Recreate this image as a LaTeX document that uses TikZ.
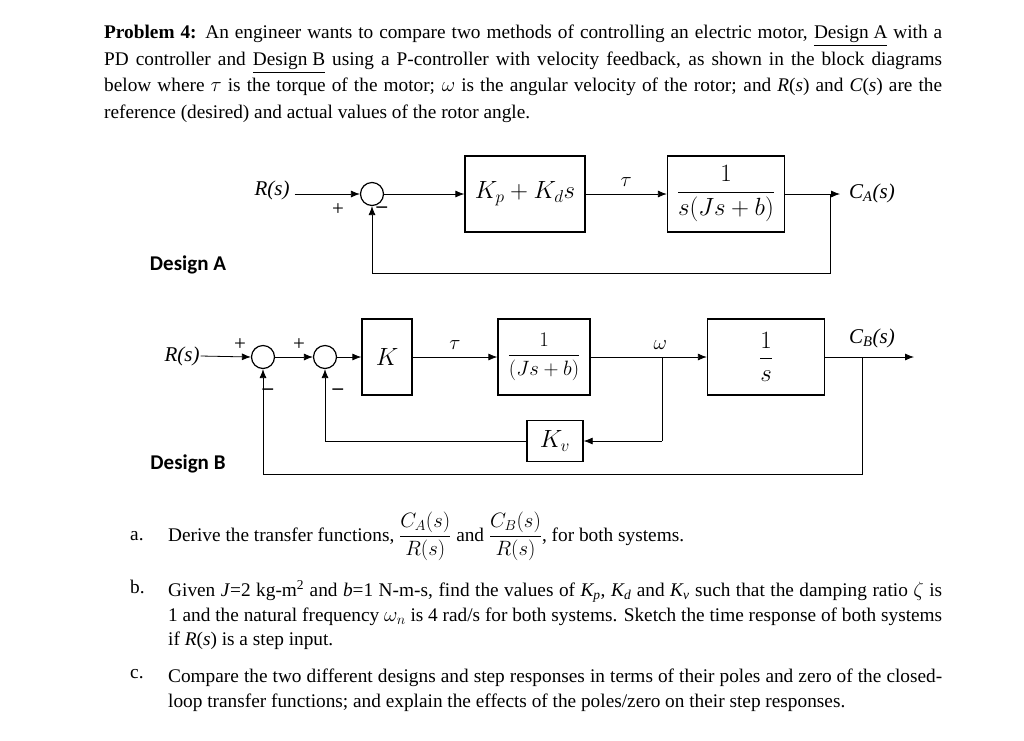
\documentclass[tikz,border=0pt]{standalone}
\usepackage{amsmath}
\usepackage{fontspec}
\setmainfont{Liberation Serif}
\newfontfamily\dsans{Carlito}
\usetikzlibrary{arrows.meta}
\begin{document}
\begin{tikzpicture}[x=1pt,y=-1pt,
  blk/.style={draw,line width=1.3pt,minimum width=#1,minimum height=76pt,inner sep=0pt,font=\fontsize{23}{25}\selectfont},
  sum/.style={draw,circle,line width=1.2pt,minimum size=23pt,inner sep=0pt},
  sig/.style={line width=0.8pt,-{Latex[length=9pt,width=7pt]}},
  ln/.style={line width=0.8pt},
  lab/.style={font=\fontsize{21}{23}\selectfont,inner sep=1pt},
  des/.style={font=\dsans\bfseries\fontsize{21}{23}\selectfont},
  txt/.style={font=\fontsize{19.3}{26.5}\selectfont,inner sep=0pt,anchor=north west}]
\useasboundingbox (0,0) rectangle (1024,740);
\node[txt,text width=838pt,align=justify] (p) at (104,25) {\textbf{Problem 4:} An engineer wants to compare two methods of controlling an electric motor, \underline{Design A} with a\linebreak PD controller and \underline{Design B} using a P-controller with velocity feedback, as shown in the block diagrams below where \(\tau\) is the torque of the motor; \(\omega\) is the angular velocity of the rotor; and \textit{R}(\textit{s}) and \textit{C}(\textit{s}) are the\linebreak reference (desired) and actual values of the rotor angle.};
% Design A
\node[lab] (ra) at (272,190) {\textit{R(s)}};
\node[sum] (sa) at (372,194) {};
\node[blk=120pt] (ba) at (525,194) {$K_p + K_d s$};
\node[blk=117pt] (ga) at (726,194) {$\dfrac{1}{s(Js+b)}$};
\coordinate (oa) at (840,194);
\node[lab,anchor=west] (ca) at (848,193) {\textit{C\textsubscript{A}(s)}};
\coordinate (fa1) at (830,194);
\coordinate (fa2) at (830,273);
\coordinate (fa3) at (372,273);
\draw[sig] (ra.east |- sa.west) ++(4,0) -- (sa.west);
\draw[sig] (sa.east) -- (ba.west);
\draw[sig] (ba.east) -- node[lab,above=6pt]{$\tau$} (ga.west);
\draw[sig] (ga.east) -- (oa);
\draw[ln] (fa1) -- (fa2) -- (fa3);
\draw[sig] (fa3) -- (sa.south);
\node[lab] (pa) at (338,210) {+};
\node[lab] (ma) at (382,210) {\textbf{--}};
\node[des] (da) at (188,265) {Design A};
% Design B
\node[lab] (rb) at (182,356) {\textit{R(s)}};
\node[sum] (s1) at (263,357) {};
\node[sum] (s2) at (325,357) {};
\node[blk=50pt] (bk) at (387,357) {$K$};
\node[blk=92pt,font=\fontsize{20}{22}\selectfont] (bg) at (544,357) {$\dfrac{1}{(Js+b)}$};
\node[blk=117pt] (bi) at (766,357) {$\dfrac{1}{s}$};
\coordinate (ob) at (914,357);
\node[lab] (cb) at (872,338) {\textit{C\textsubscript{B}(s)}};
\node[draw,line width=1.3pt,minimum width=56pt,minimum height=41pt,inner sep=0pt,font=\fontsize{23}{25}\selectfont] (kv) at (555,441) {$K_v$};
\coordinate (w1) at (662,357);
\coordinate (w2) at (662,441);
\coordinate (v1) at (325,441);
\coordinate (o1) at (862,357);
\coordinate (o2) at (862,474);
\coordinate (o3) at (263,474);
\draw[sig] (rb.east) -- (s1.west);
\draw[sig] (s1.east) -- (s2.west);
\draw[sig] (s2.east) -- (bk.west);
\draw[sig] (bk.east) -- node[lab,above=6pt]{$\tau$} (bg.west);
\draw[sig] (bg.east) -- node[lab,above=6pt,pos=0.6]{$\omega$} (bi.west);
\draw[sig] (bi.east) -- (ob);
\draw[ln] (w1) -- (w2);
\draw[sig] (w2) -- (kv.east);
\draw[ln] (kv.west) -- (v1);
\draw[sig] (v1) -- (s2.south);
\draw[ln] (o1) -- (o2) -- (o3);
\draw[sig] (o3) -- (s1.south);
\node[lab] (p1) at (240,345) {+};
\node[lab] (p2) at (299,345) {+};
\node[lab] (m1) at (268,392) {\textbf{--}};
\node[lab] (m2) at (338,392) {\textbf{--}};
\node[des] (db) at (188,464) {Design B};
% questions
\node[txt,anchor=west] (qa) at (130,536) {a.};
\node[txt,anchor=west] (qat) at (168,536) {Derive the transfer functions, \(\dfrac{C_{A}(s)}{R(s)}\) and \(\dfrac{C_{B}(s)}{R(s)}\), for both systems.};
\node[txt] (qb) at (130,580) {b.};
\node[txt,text width=774pt,align=justify,font=\fontsize{19.3}{24.5}\selectfont] (qbt) at (168,580) {Given \textit{J}=2 kg-m\textsuperscript{2} and \textit{b}=1 N-m-s, find the values of \textit{K\textsubscript{p}}, \textit{K\textsubscript{d}} and \textit{K\textsubscript{v}} such that the damping ratio \(\zeta\) is\linebreak 1 and the natural frequency \(\omega_n\) is 4 rad/s for both systems. Sketch the time response of both systems if \textit{R}(\textit{s}) is a step input.};
\node[txt] (qc) at (130,669) {c.};
\node[txt,text width=774pt,align=justify,font=\fontsize{19.3}{24.5}\selectfont] (qct) at (168,669) {Compare the two different designs and step responses in terms of their poles and zero of the closed-loop transfer functions; and explain the effects of the poles/zero on their step responses.};
\end{tikzpicture}
\end{document}
